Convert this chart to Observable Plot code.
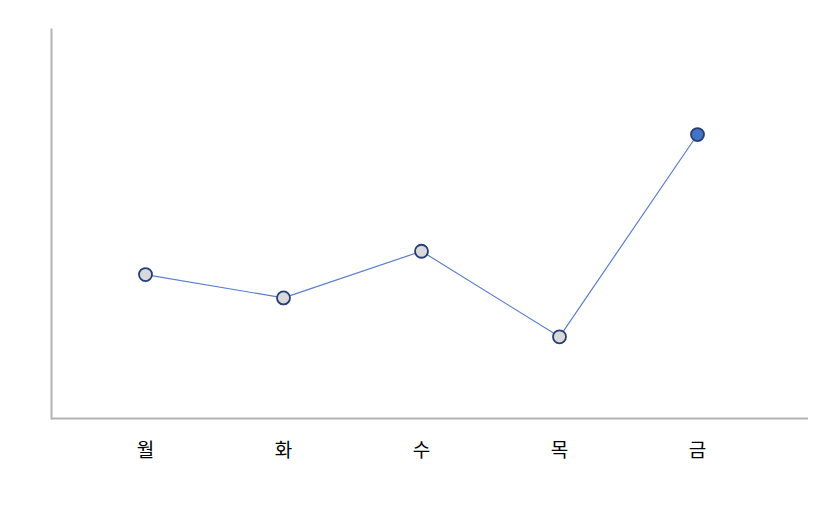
<!DOCTYPE html>
<html><head><meta charset="utf-8">
<script src="https://cdn.jsdelivr.net/npm/d3@7"></script>
<script src="https://cdn.jsdelivr.net/npm/@observablehq/plot@0.6"></script>
<style>
html,body{margin:0;padding:0;background:#fff;}
svg{display:block;}
</style>
</head><body>
<div id="chart"></div>
<script>
const days = ["월", "화", "수", "목", "금"];
const values = [37, 31, 43, 21, 73];
const highlight = [false, false, false, false, true];

const data = days.map((d, i) => ({day: d, value: values[i], hi: highlight[i]}));

const chart = Plot.plot({
  width: 835,
  height: 512,
  marginLeft: 51,
  marginRight: 27,
  marginTop: 29,
  marginBottom: 94,
  style: {fontFamily: "'Noto Sans CJK KR', sans-serif", fontSize: "19px", color: "#000"},
  x: {type: "point", domain: days, range: [144, 698], padding: 0, label: null},
  y: {domain: [0, 100], axis: null},
  marks: [
    Plot.ruleY([0], {stroke: "#b3b3b3", strokeWidth: 2}),
    Plot.frame({anchor: "left", stroke: "#b3b3b3", strokeWidth: 2}),
    Plot.axisX({tickSize: 0, tickPadding: 25, fontSize: 19, label: null}),
    Plot.line(data, {x: "day", y: "value", stroke: "#5a7fcc", strokeWidth: 1.2}),
    Plot.dot(data, {x: "day", y: "value", r: 6.5, fill: d => d.hi ? "#4472c4" : "#d9d9d9", stroke: "#243f78", strokeWidth: 1.8})
  ]
});
document.getElementById("chart").append(chart);
</script>
</body></html>
